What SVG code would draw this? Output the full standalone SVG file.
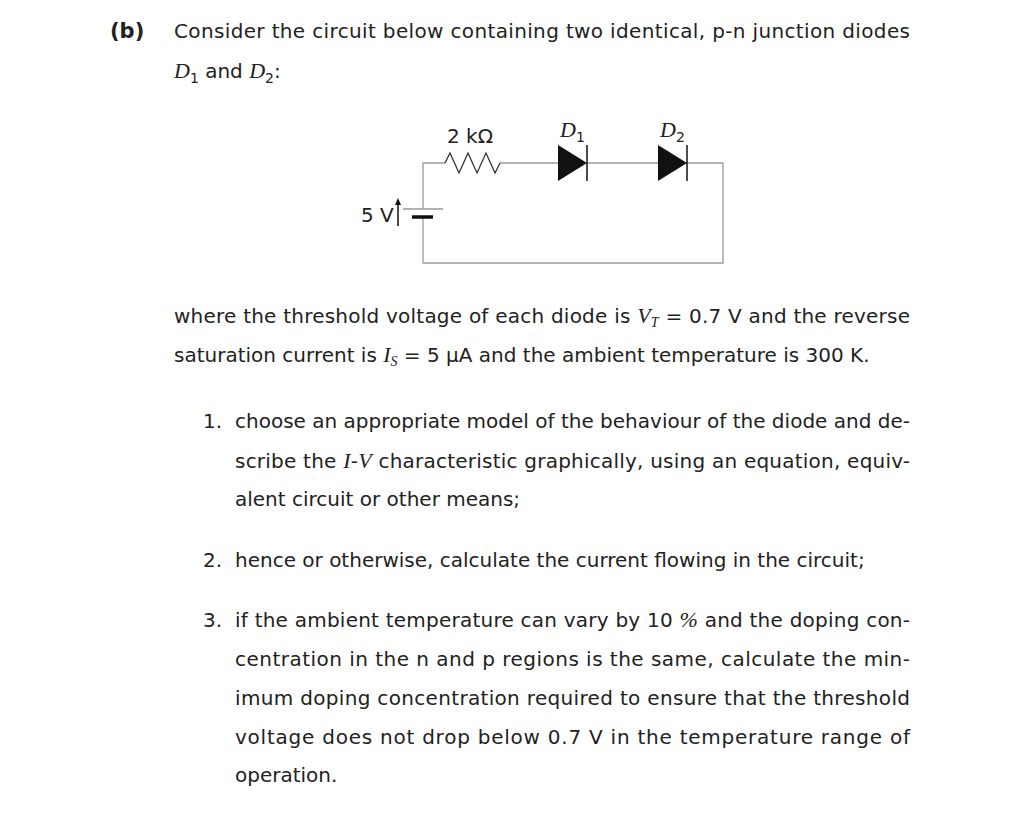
<svg xmlns="http://www.w3.org/2000/svg" width="1024" height="823" viewBox="0 0 1024 823">
<style>
text{font-family:"DejaVu Sans","Liberation Sans",sans-serif;font-size:20px;fill:#222}
.m{font-family:"Liberation Serif",serif;font-style:italic;font-size:22px}
.s{font-size:14px}
.w{stroke:#999;stroke-width:1.3;fill:none}
.k{stroke:#111;stroke-width:1.5;fill:none}
</style>
<rect width="1024" height="823" fill="#fff"/>
<text x="110" y="38" font-weight="bold" style="font-size:21px">(b)</text>
<text x="174" y="38" textLength="736" lengthAdjust="spacing">Consider the circuit below containing two identical, p-n junction diodes</text>
<text x="174" y="78"><tspan class="m">D</tspan><tspan class="s" dy="5">1</tspan><tspan dy="-5"> and </tspan><tspan class="m">D</tspan><tspan class="s" dy="5">2</tspan><tspan dy="-5">:</tspan></text>
<g id="connectors">
<path class="w" d="M423 209V163H445M500 163H558M587 163H658M687 163H723V263H423V217"/>
</g>
<g id="resistor"><path d="M445 163L450 153L459 173L468 153L477 173L486 153L495 173L500 163" stroke="#333" stroke-width="1.3" fill="none"/>
<text x="470" y="143" text-anchor="middle">2 kΩ</text></g>
<g id="D1"><path d="M558 145L587 163L558 181Z" fill="#111"/><path class="k" d="M587 145V181"/>
<text x="560" y="137"><tspan class="m">D</tspan><tspan class="s" dy="5">1</tspan></text></g>
<g id="D2"><path d="M658 145L687 163L658 181Z" fill="#111"/><path class="k" d="M687 145V181"/>
<text x="660" y="137"><tspan class="m">D</tspan><tspan class="s" dy="5">2</tspan></text></g>
<g id="battery"><path class="w" d="M403 209H443"/><path d="M412 217H433" stroke="#111" stroke-width="3.5"/>
<path class="k" d="M398 226V203" stroke-width="1"/><path d="M395 205L398 198L401 205Z" fill="#111"/>
<text x="361" y="222">5 V</text></g>
<text x="174" y="323" textLength="736" lengthAdjust="spacing">where the threshold voltage of each diode is <tspan class="m">V</tspan><tspan class="m s" dy="4">T</tspan><tspan dy="-4"> = 0.7 V and the reverse</tspan></text>
<text x="174" y="362">saturation current is <tspan class="m">I</tspan><tspan class="m s" dy="4">S</tspan><tspan dy="-4"> = 5 μA and the ambient temperature is 300 K.</tspan></text>
<text x="203" y="428">1.</text>
<text x="235" y="428" textLength="675" lengthAdjust="spacing">choose an appropriate model of the behaviour of the diode and de-</text>
<text x="235" y="468" textLength="675" lengthAdjust="spacing">scribe the <tspan class="m">I</tspan>-<tspan class="m">V</tspan> characteristic graphically, using an equation, equiv-</text>
<text x="235" y="506">alent circuit or other means;</text>
<text x="203" y="567">2.</text>
<text x="235" y="567">hence or otherwise, calculate the current flowing in the circuit;</text>
<text x="203" y="627">3.</text>
<text x="235" y="627" textLength="675" lengthAdjust="spacing">if the ambient temperature can vary by 10 <tspan class="m">%</tspan> and the doping con-</text>
<text x="235" y="666" textLength="675" lengthAdjust="spacing">centration in the n and p regions is the same, calculate the min-</text>
<text x="235" y="705" textLength="675" lengthAdjust="spacing">imum doping concentration required to ensure that the threshold</text>
<text x="235" y="744" textLength="675" lengthAdjust="spacing">voltage does not drop below 0.7 V in the temperature range of</text>
<text x="235" y="782">operation.</text>
</svg>
